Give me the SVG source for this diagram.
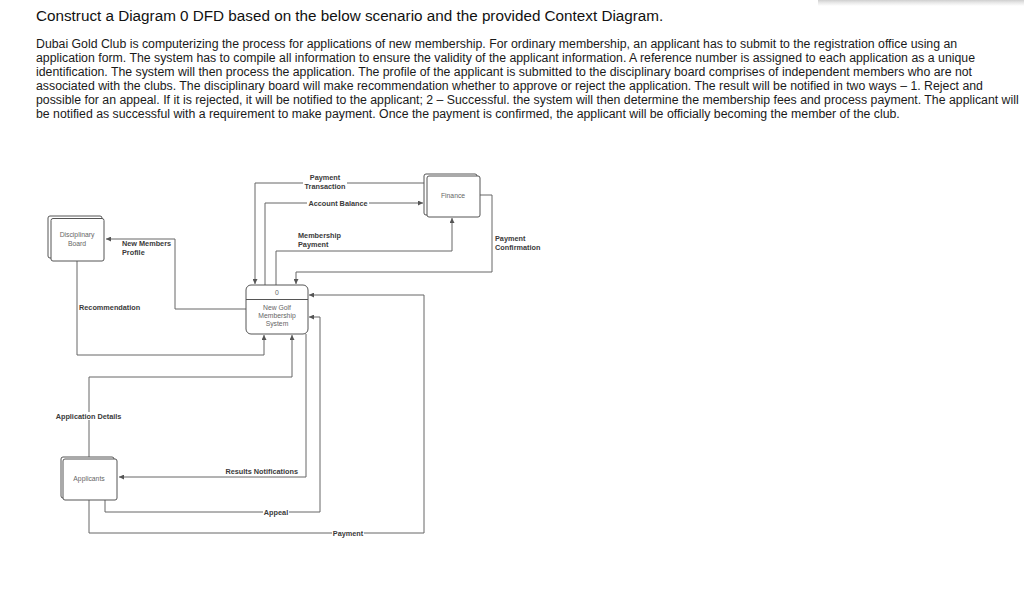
<svg xmlns="http://www.w3.org/2000/svg" width="1024" height="594" viewBox="0 0 1024 594">
<defs>
<linearGradient id="shadow" x1="0" y1="0" x2="0" y2="1">
<stop offset="0" stop-color="#cfcfcf"/>
<stop offset="0.4" stop-color="#e6e6e6"/>
<stop offset="1" stop-color="#ffffff"/>
</linearGradient>
<marker id="arr" viewBox="0 0 6 6" refX="6" refY="3" markerWidth="5" markerHeight="5" markerUnits="userSpaceOnUse" orient="auto">
<path d="M0,0 L6,3 L0,6 Z" fill="#555"/>
</marker>
<style>
.title{font-family:"Liberation Sans",Arial,sans-serif;font-size:15.25px;fill:#111}
.para{font-family:"Liberation Sans",Arial,sans-serif;font-size:12.3px;fill:#1a1a1a}
.lbl{font-family:"Liberation Sans",Arial,sans-serif;font-size:7.3px;font-weight:bold;fill:#3a3a3a}
.node{font-family:"Liberation Sans",Arial,sans-serif;font-size:6.8px;fill:#666;text-anchor:middle}
.box{fill:#fff;stroke:#555;stroke-width:1}
.ln{fill:none;stroke:#666;stroke-width:1;stroke-linejoin:round}
.arrow{marker-end:url(#arr)}
.bg{fill:#fff}
</style>
</defs>
<rect x="0" y="0" width="1024" height="594" fill="#fff"/>
<rect x="818" y="0" width="206" height="6" fill="url(#shadow)"/>

<g id="text">
<text class="title" x="36" y="21">Construct a Diagram 0 DFD based on the below scenario and the provided Context Diagram.</text>
<text class="para" x="36" y="48">Dubai Gold Club is computerizing the process for applications of new membership. For ordinary membership, an applicant has to submit to the registration office using an</text>
<text class="para" x="36" y="62">application form. The system has to compile all information to ensure the validity of the applicant information. A reference number is assigned to each application as a unique</text>
<text class="para" x="36" y="76">identification. The system will then process the application. The profile of the applicant is submitted to the disciplinary board comprises of independent members who are not</text>
<text class="para" x="36" y="90">associated with the clubs. The disciplinary board will make recommendation whether to approve or reject the application. The result will be notified in two ways – 1. Reject and</text>
<text class="para" x="36" y="104">possible for an appeal. If it is rejected, it will be notified to the applicant; 2 – Successful. the system will then determine the membership fees and process payment. The applicant will</text>
<text class="para" x="36" y="118">be notified as successful with a requirement to make payment. Once the payment is confirmed, the applicant will be officially becoming the member of the club.</text>
</g>

<g id="connectors">
<path class="ln arrow" d="M246,309 H175 V239 H106"/>
<path class="ln arrow" d="M77,261 V355 H264 V335"/>
<path class="ln arrow" d="M424,183 H255 V284"/>
<path class="ln arrow" d="M265,285 V203 H423"/>
<path class="ln arrow" d="M276,285 V251 H452 V218"/>
<path class="ln arrow" d="M480,195 H492 V272 H296 V284"/>
<path class="ln arrow" d="M89,500 V533 H424 V295 H309"/>
<path class="ln arrow" d="M105,500 V512 H320 V317 H309"/>
<path class="ln arrow" d="M306,334 V477 H119"/>
<path class="ln arrow" d="M89,457 V377 H292 V335"/>
<rect class="bg" x="303" y="173" width="44" height="18"/>
<text class="lbl" x="325" y="180" text-anchor="middle">Payment</text>
<text class="lbl" x="325" y="189" text-anchor="middle">Transaction</text>
<rect class="bg" x="307" y="199" width="62" height="8"/>
<text class="lbl" x="338" y="205.5" text-anchor="middle">Account Balance</text>
<text class="lbl" x="298" y="238">Membership</text>
<text class="lbl" x="298" y="247">Payment</text>
<text class="lbl" x="495" y="241">Payment</text>
<text class="lbl" x="495" y="250">Confirmation</text>
<text class="lbl" x="122" y="246">New Members</text>
<text class="lbl" x="122" y="255">Profile</text>
<text class="lbl" x="79" y="309.5">Recommendation</text>
<rect class="bg" x="54" y="412" width="70" height="8"/>
<text class="lbl" x="88.5" y="418.5" text-anchor="middle">Application Details</text>
<text class="lbl" x="298" y="474" text-anchor="end">Results Notifications</text>
<rect class="bg" x="263" y="508" width="26" height="8"/>
<text class="lbl" x="276" y="514.5" text-anchor="middle">Appeal</text>
<rect class="bg" x="332" y="529" width="32" height="8"/>
<text class="lbl" x="348" y="535.5" text-anchor="middle">Payment</text>
</g>

<g id="disciplinary-board">
<rect class="box" x="48" y="216" width="54" height="42" rx="2"/>
<rect class="box" x="51" y="218.5" width="53" height="42.5" rx="2"/>
<text class="node" x="77" y="236.5">Disciplinary</text>
<text class="node" x="77" y="245.5">Board</text>
</g>

<g id="finance">
<rect class="box" x="424" y="174" width="53" height="41" rx="2"/>
<rect class="box" x="427" y="176" width="53" height="41" rx="2"/>
<text class="node" x="453" y="197.5">Finance</text>
</g>

<g id="applicants">
<rect class="box" x="61" y="457" width="53" height="41" rx="2"/>
<rect class="box" x="63" y="459" width="54" height="41" rx="2"/>
<text class="node" x="89" y="480.5">Applicants</text>
</g>

<g id="process-0">
<rect class="box" x="246" y="285" width="62" height="49" rx="5"/>
<line x1="246" y1="299.5" x2="308" y2="299.5" stroke="#555" stroke-width="1"/>
<text class="node" x="277" y="294.5">0</text>
<text class="node" x="277" y="310">New Golf</text>
<text class="node" x="277" y="318">Membership</text>
<text class="node" x="277" y="326">System</text>
</g>
</svg>
